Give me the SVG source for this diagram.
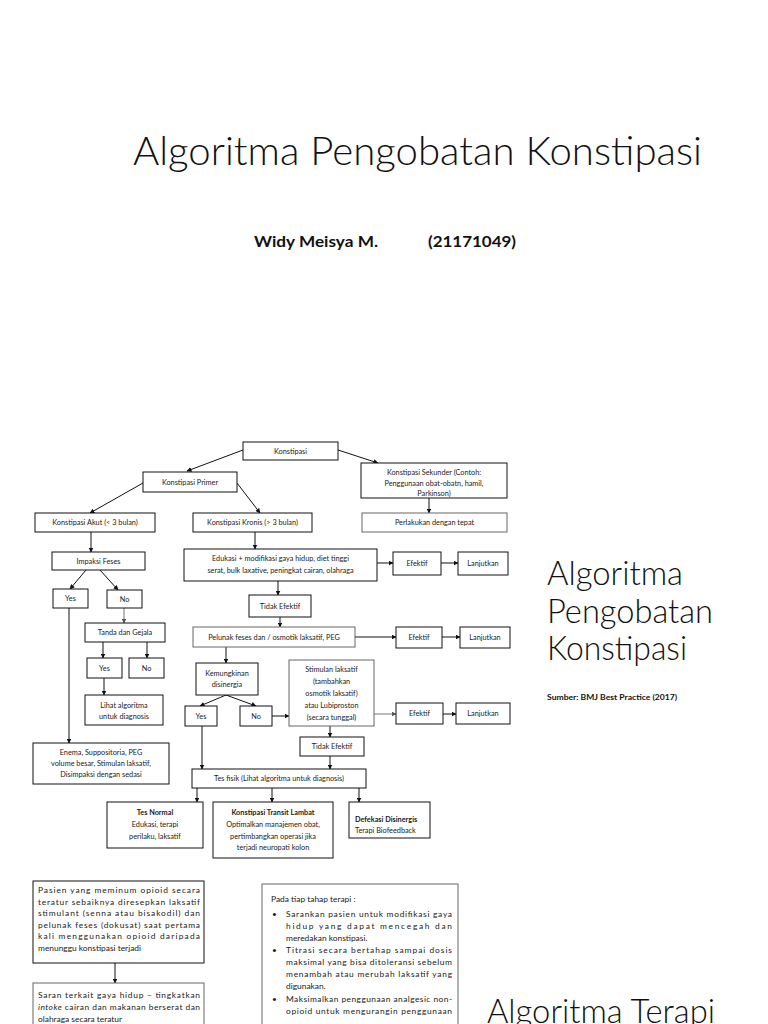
<svg xmlns="http://www.w3.org/2000/svg" width="768" height="1024" viewBox="0 0 768 1024">
<style>
.bg{fill:#fff}
.b{fill:#fff;stroke:#111;stroke-width:1}
.bg2{fill:#fff;stroke:#666;stroke-width:1}
.t{font-family:Lato,"Open Sans","Liberation Sans",sans-serif;font-size:7.3px;fill:#1a1a1a;text-anchor:middle}
.tl{font-family:Lato,"Open Sans","Liberation Sans",sans-serif;font-size:7.3px;fill:#1a1a1a}
.tb{font-weight:bold}
.p{font-family:Lato,"Open Sans","Liberation Sans",sans-serif;font-size:8.4px;fill:#1a1a1a}
.h{font-family:Lato,"Open Sans","Liberation Sans",sans-serif;font-weight:300;fill:#111}
.c{stroke:#111;stroke-width:1;fill:none;marker-end:url(#a)}
.cg{stroke:#777;stroke-width:1;fill:none;marker-end:url(#ag)}
</style>
<defs>
<marker id="a" viewBox="0 0 10 10" refX="9" refY="5" markerWidth="5" markerHeight="5" orient="auto" markerUnits="userSpaceOnUse"><path d="M0,0 L10,5 L0,10 z" fill="#111"/></marker>
<marker id="ag" viewBox="0 0 10 10" refX="9" refY="5" markerWidth="5" markerHeight="5" orient="auto" markerUnits="userSpaceOnUse"><path d="M0,0 L10,5 L0,10 z" fill="#555"/></marker>
</defs>
<rect class="bg" x="0" y="0" width="768" height="1024"/>

<g id="titles">
<text class="h" x="133" y="165" font-size="40" textLength="569" lengthAdjust="spacingAndGlyphs">Algoritma Pengobatan Konstipasi</text>
<text x="254" y="247" font-family="Lato,'Open Sans','Liberation Sans',sans-serif" font-size="15" font-weight="bold" fill="#111" textLength="124" lengthAdjust="spacingAndGlyphs">Widy Meisya M.</text>
<text x="428" y="247" font-family="Lato,'Open Sans','Liberation Sans',sans-serif" font-size="15" font-weight="bold" fill="#111" textLength="88" lengthAdjust="spacingAndGlyphs">(21171049)</text>
<text class="h" x="547" y="585" font-size="33" textLength="136" lengthAdjust="spacingAndGlyphs">Algoritma</text>
<text class="h" x="547" y="623" font-size="33" textLength="166" lengthAdjust="spacingAndGlyphs">Pengobatan</text>
<text class="h" x="547" y="660" font-size="33" textLength="140" lengthAdjust="spacingAndGlyphs">Konstipasi</text>
<text x="547" y="700" font-family="Lato,'Open Sans','Liberation Sans',sans-serif" font-size="8" font-weight="bold" fill="#111" textLength="130" lengthAdjust="spacingAndGlyphs">Sumber: BMJ Best Practice (2017)</text>
<text class="h" x="487" y="1023" font-size="33" textLength="228" lengthAdjust="spacingAndGlyphs">Algoritma Terapi</text>
</g>

<g id="connectors">
<line class="c" x1="243" y1="450" x2="187" y2="471"/>
<line class="c" x1="338" y1="450" x2="378" y2="463"/>
<line class="c" x1="143" y1="483" x2="90" y2="513"/>
<line class="c" x1="237" y1="483" x2="260" y2="513"/>
<line class="c" x1="429" y1="498" x2="429" y2="513"/>
<line class="c" x1="91" y1="532" x2="91" y2="552"/>
<line class="c" x1="255" y1="532" x2="255" y2="549"/>
<line class="c" x1="86" y1="570" x2="70" y2="589"/>
<line class="c" x1="100" y1="570" x2="118" y2="590"/>
<line class="c" x1="377" y1="563" x2="393" y2="563"/>
<line class="c" x1="441" y1="563" x2="458" y2="563"/>
<line class="c" x1="278" y1="581" x2="278" y2="595"/>
<line class="c" x1="280" y1="617" x2="280" y2="627"/>
<line class="cg" x1="124" y1="608" x2="124" y2="623"/>
<line class="c" x1="103" y1="642" x2="103" y2="658"/>
<line class="c" x1="147" y1="642" x2="147" y2="658"/>
<line class="c" x1="104" y1="678" x2="104" y2="695"/>
<line class="c" x1="69" y1="608" x2="69" y2="743"/>
<line class="c" x1="355" y1="637" x2="396" y2="637"/>
<line class="c" x1="442" y1="637" x2="460" y2="637"/>
<line class="c" x1="226" y1="647" x2="226" y2="663"/>
<line class="c" x1="226" y1="695" x2="200" y2="706"/>
<line class="c" x1="226" y1="695" x2="256" y2="706"/>
<line class="c" x1="272" y1="716" x2="289" y2="716"/>
<line class="cg" x1="374" y1="714" x2="396" y2="714"/>
<line class="c" x1="443" y1="714" x2="456" y2="714"/>
<line class="c" x1="330" y1="726" x2="330" y2="737"/>
<line class="c" x1="330" y1="756" x2="330" y2="769"/>
<line class="c" x1="202" y1="726" x2="202" y2="769"/>
<line class="c" x1="197" y1="788" x2="197" y2="802"/>
<line class="c" x1="272" y1="788" x2="272" y2="802"/>
<line class="c" x1="359" y1="788" x2="359" y2="802"/>
<line class="c" x1="115" y1="963" x2="115" y2="983"/>
</g>

<g id="n-konstipasi"><rect class="b" x="243" y="442" width="95" height="18"/><text class="t" x="290.5" y="453.5">Konstipasi</text></g>
<g id="n-primer"><rect class="b" x="143" y="472" width="94" height="20"/><text class="t" x="190" y="484.5">Konstipasi Primer</text></g>
<g id="n-sekunder"><rect class="b" x="361" y="463" width="146" height="35"/>
<text class="t" x="434" y="474.5">Konstipasi  Sekunder (Contoh:</text>
<text class="t" x="434" y="485.5">Penggunaan obat-obatn, hamil,</text>
<text class="t" x="434" y="496">Parkinson)</text></g>
<g id="n-perlakukan"><rect class="bg2" x="362" y="513" width="145" height="19"/><text class="t" x="434.5" y="525">Perlakukan dengan tepat</text></g>
<g id="n-akut"><rect class="b" x="35" y="513" width="120" height="19"/><text class="t" x="95" y="525">Konstipasi Akut (&lt; 3 bulan)</text></g>
<g id="n-kronis"><rect class="b" x="193" y="513" width="119" height="19"/><text class="t" x="252.5" y="525">Konstipasi Kronis (&gt; 3 bulan)</text></g>
<g id="n-impaksi"><rect class="b" x="52" y="552" width="93" height="18"/><text class="t" x="98.5" y="563.5">Impaksi Feses</text></g>
<g id="n-edukasi"><rect class="b" x="184" y="549" width="193" height="32"/>
<text class="t" x="280.5" y="561">Edukasi + modifikasi gaya hidup, diet tinggi</text>
<text class="t" x="280.5" y="573">serat, bulk laxative, peningkat cairan, olahraga</text></g>
<g id="n-efektif1"><rect class="b" x="393" y="552" width="48" height="23"/><text class="t" x="417" y="566">Efektif</text></g>
<g id="n-lanjut1"><rect class="b" x="458" y="552" width="50" height="23"/><text class="t" x="483" y="566">Lanjutkan</text></g>
<g id="n-yes1"><rect class="b" x="53" y="589" width="35" height="19"/><text class="t" x="70.5" y="601">Yes</text></g>
<g id="n-no1"><rect class="b" x="107" y="590" width="35" height="18"/><text class="t" x="124.5" y="601.5">No</text></g>
<g id="n-tidak1"><rect class="b" x="249" y="595" width="62" height="22"/><text class="t" x="280" y="608.5">Tidak Efektif</text></g>
<g id="n-tanda"><rect class="b" x="85" y="623" width="80" height="19"/><text class="t" x="125" y="635">Tanda dan Gejala</text></g>
<g id="n-pelunak"><rect class="bg2" x="193" y="627" width="162" height="20"/><text class="t" x="274" y="639.5">Pelunak feses dan / osmotik laksatif, PEG</text></g>
<g id="n-efektif2"><rect class="b" x="396" y="627" width="46" height="21"/><text class="t" x="419" y="640">Efektif</text></g>
<g id="n-lanjut2"><rect class="b" x="460" y="627" width="50" height="21"/><text class="t" x="485" y="640">Lanjutkan</text></g>
<g id="n-yes2"><rect class="b" x="87" y="658" width="35" height="20"/><text class="t" x="104.5" y="670.5">Yes</text></g>
<g id="n-no2"><rect class="b" x="129" y="658" width="35" height="20"/><text class="t" x="146.5" y="670.5">No</text></g>
<g id="n-kemungkinan"><rect class="b" x="196" y="663" width="62" height="32"/>
<text class="t" x="227" y="676">Kemungkinan</text>
<text class="t" x="227" y="687">disinergia</text></g>
<g id="n-stimulan"><rect class="bg2" x="289" y="660" width="85" height="66"/>
<text class="t" x="331.5" y="671.5">Stimulan laksatif</text>
<text class="t" x="331.5" y="683.5">(tambahkan</text>
<text class="t" x="331.5" y="695.5">osmotik laksatif)</text>
<text class="t" x="331.5" y="707.5">atau Lubiproston</text>
<text class="t" x="331.5" y="719.5">(secara tunggal)</text></g>
<g id="n-lihat"><rect class="b" x="85" y="695" width="78" height="30"/>
<text class="t" x="124" y="707.5">Lihat algoritma</text>
<text class="t" x="124" y="718.5">untuk diagnosis</text></g>
<g id="n-yes3"><rect class="b" x="185" y="706" width="32" height="20"/><text class="t" x="201" y="718.5">Yes</text></g>
<g id="n-no3"><rect class="b" x="240" y="706" width="32" height="20"/><text class="t" x="256" y="718.5">No</text></g>
<g id="n-efektif3"><rect class="b" x="396" y="703" width="47" height="21"/><text class="t" x="419.5" y="716">Efektif</text></g>
<g id="n-lanjut3"><rect class="b" x="456" y="703" width="54" height="21"/><text class="t" x="483" y="716">Lanjutkan</text></g>
<g id="n-tidak2"><rect class="b" x="300" y="737" width="64" height="19"/><text class="t" x="332" y="749">Tidak Efektif</text></g>
<g id="n-enema"><rect class="b" x="33" y="743" width="136" height="41"/>
<text class="t" x="101" y="754.5">Enema, Suppositoria, PEG</text>
<text class="t" x="101" y="765.5">volume besar, Stimulan laksatif,</text>
<text class="t" x="101" y="777">Disimpaksi dengan sedasi</text></g>
<g id="n-tesfisik"><rect class="b" x="192" y="769" width="174" height="19"/><text class="t" x="279" y="781">Tes fisik (Lihat algoritma untuk diagnosis)</text></g>
<g id="n-tesnormal"><rect class="b" x="107" y="802" width="96" height="46"/>
<text class="t tb" x="155" y="814.5">Tes Normal</text>
<text class="t" x="155" y="826.5">Edukasi, terapi</text>
<text class="t" x="155" y="838.5">perilaku, laksatif</text></g>
<g id="n-transit"><rect class="b" x="213" y="802" width="120" height="56"/>
<text class="t tb" x="273" y="814.5">Konstipasi Transit Lambat</text>
<text class="t" x="273" y="826.5">Optimalkan manajemen obat,</text>
<text class="t" x="273" y="838.5">pertimbangkan operasi jika</text>
<text class="t" x="273" y="849.5">terjadi neuropati kolon</text></g>
<g id="n-defekasi"><rect class="b" x="349" y="802" width="81" height="36"/>
<text class="tl tb" x="355" y="821.5">Defekasi Disinergis</text>
<text class="tl" x="355" y="832.5">Terapi Biofeedback</text></g>

<g id="n-opioid"><rect class="b" x="33" y="881" width="171" height="82"/>
<text class="p" x="38" y="893" textLength="162" lengthAdjust="spacing">Pasien yang meminum opioid secara</text>
<text class="p" x="38" y="904.5" textLength="162" lengthAdjust="spacing">teratur sebaiknya diresepkan laksatif</text>
<text class="p" x="38" y="916" textLength="162" lengthAdjust="spacing">stimulant (senna atau bisakodil) dan</text>
<text class="p" x="38" y="927.5" textLength="162" lengthAdjust="spacing">pelunak feses (dokusat) saat pertama</text>
<text class="p" x="38" y="939" textLength="162" lengthAdjust="spacing">kali menggunakan opioid daripada</text>
<text class="p" x="38" y="950.5">menunggu konstipasi terjadi</text></g>
<g id="n-saran"><rect class="bg2" x="33" y="983" width="171" height="50"/>
<text class="p" x="38" y="998" textLength="162" lengthAdjust="spacing">Saran terkait gaya hidup – tingkatkan</text>
<text class="p" x="38" y="1010" textLength="162" lengthAdjust="spacing"><tspan font-style="italic">intoke</tspan> cairan dan makanan berserat dan</text>
<text class="p" x="38" y="1022">olahraga secara teratur</text></g>
<g id="n-tahap"><rect class="bg2" x="262" y="884" width="196" height="150"/>
<text class="p" x="271" y="902">Pada tiap tahap terapi :</text>
<text class="p" x="272" y="916.5">•</text>
<text class="p" x="286" y="916.5" textLength="166" lengthAdjust="spacing">Sarankan pasien untuk modifikasi gaya</text>
<text class="p" x="286" y="928.5" textLength="166" lengthAdjust="spacing">hidup yang dapat mencegah dan</text>
<text class="p" x="286" y="940.5">meredakan konstipasi.</text>
<text class="p" x="272" y="953">•</text>
<text class="p" x="286" y="953" textLength="166" lengthAdjust="spacing">Titrasi secara bertahap sampai dosis</text>
<text class="p" x="286" y="965" textLength="166" lengthAdjust="spacing">maksimal yang bisa ditoleransi sebelum</text>
<text class="p" x="286" y="977" textLength="166" lengthAdjust="spacing">menambah atau merubah laksatif yang</text>
<text class="p" x="286" y="989">digunakan.</text>
<text class="p" x="272" y="1002">•</text>
<text class="p" x="286" y="1002" textLength="166" lengthAdjust="spacing">Maksimalkan penggunaan analgesic non-</text>
<text class="p" x="286" y="1014" textLength="166" lengthAdjust="spacing">opioid untuk mengurangin penggunaan</text></g>
</svg>
